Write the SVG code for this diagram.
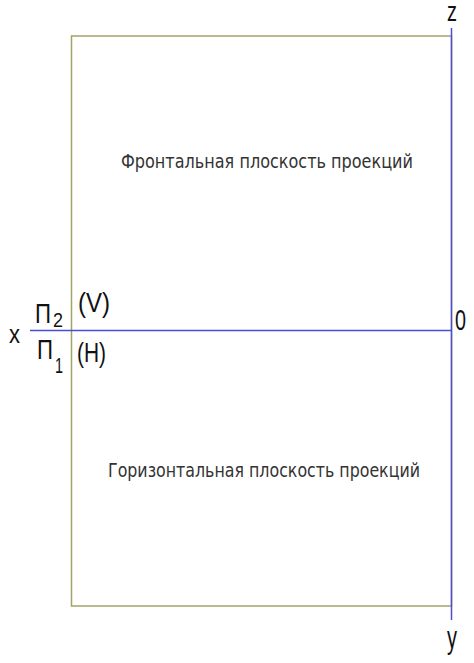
<svg xmlns="http://www.w3.org/2000/svg" width="474" height="663" viewBox="0 0 474 663">
<style>
.frame{fill:none;stroke:#a3a266;stroke-width:1.5}
.axis{stroke:#4b4bd6;stroke-width:1.5;fill:none}
.t{font-family:"DejaVu Sans Condensed","Liberation Sans",sans-serif;fill:#333}
.lab{font-family:"Liberation Sans",sans-serif;fill:#111}
</style>
<rect width="474" height="663" fill="#fff"/>
<g id="frame"><rect class="frame" x="71.5" y="36" width="380" height="570"/></g>
<g id="connectors">
<line class="axis" x1="30" y1="330.5" x2="451.5" y2="330.5"/>
<line class="axis" x1="451.5" y1="28" x2="451.5" y2="620"/>
</g>
<g id="frontal"><text class="t" x="121" y="168" font-size="19" textLength="292" lengthAdjust="spacingAndGlyphs">Фронтальная плоскость проекций</text></g>
<g id="horizontal"><text class="t" x="108" y="477" font-size="19" textLength="312" lengthAdjust="spacingAndGlyphs">Горизонтальная плоскость проекций</text></g>
<g id="labels">
<text class="lab" x="9" y="343" font-size="26" textLength="11" lengthAdjust="spacingAndGlyphs">x</text>
<text class="lab" x="35" y="323" font-size="27" textLength="16" lengthAdjust="spacingAndGlyphs">П</text>
<text class="lab" x="53" y="327" font-size="21" textLength="10" lengthAdjust="spacingAndGlyphs">2</text>
<text class="lab" x="78" y="312" font-size="28" textLength="32" lengthAdjust="spacingAndGlyphs">(V)</text>
<text class="lab" x="37" y="359" font-size="27" textLength="16" lengthAdjust="spacingAndGlyphs">П</text>
<text class="lab" x="55" y="373" font-size="22" textLength="8" lengthAdjust="spacingAndGlyphs">1</text>
<text class="lab" x="77" y="362" font-size="28" textLength="29" lengthAdjust="spacingAndGlyphs">(H)</text>
<text class="lab" x="455" y="330" font-size="30" textLength="11" lengthAdjust="spacingAndGlyphs">0</text>
<text class="lab" x="447" y="21" font-size="27" textLength="10" lengthAdjust="spacingAndGlyphs">z</text>
<text class="lab" x="447" y="648" font-size="32" textLength="10" lengthAdjust="spacingAndGlyphs">y</text>
</g>
</svg>
